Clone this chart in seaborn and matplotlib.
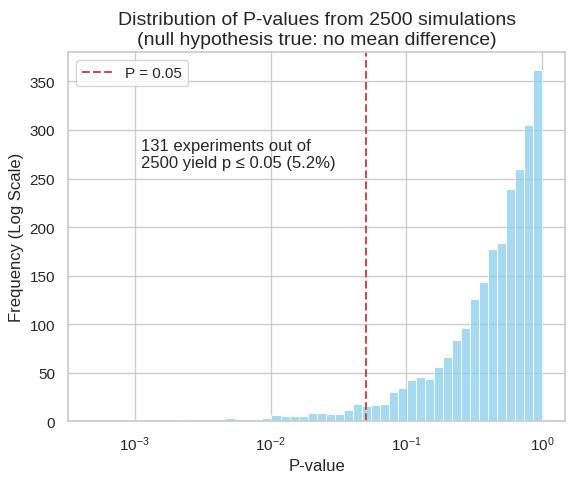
import numpy as np
import pandas as pd
import matplotlib
matplotlib.use("Agg")
import matplotlib.pyplot as plt
import seaborn as sns

# histogram counts, 50 log-spaced bins
n_bins = 50
log_lo, log_hi = -3.3215, 0.0
counts = [1, 0, 0, 0, 0, 0, 0, 1, 0, 1,
          2, 1, 0, 0, 0, 3, 0, 1, 0, 3,
          6, 5, 5, 5, 8, 8, 7, 7, 11, 18,
          15, 17, 18, 30, 34, 42, 45, 43, 56, 66,
          84, 96, 126, 143, 177, 183, 239, 260, 305, 362]
n_sims = 2500
n_sig = 131
alpha_level = 0.05

# one weighted point per bin, at the bin centre (in log space)
edges_log = np.linspace(log_lo, log_hi, n_bins + 1)
centres = 10 ** ((edges_log[:-1] + edges_log[1:]) / 2)
df = pd.DataFrame({"p": centres, "n": counts})
df = df[df["n"] > 0]

sns.set_theme(style="whitegrid")
plt.rcParams["font.family"] = ["Liberation Sans", "DejaVu Sans"]

fig = plt.figure(figsize=(5.75, 4.89), dpi=100)
ax = fig.add_axes([0.1188, 0.137, 0.8638, 0.754])

sns.histplot(data=df, x="p", weights="n", bins=n_bins, binrange=(log_lo, log_hi),
             log_scale=True, color="skyblue", ax=ax)
ax.axvline(alpha_level, color="r", linestyle="--", label=f"P = {alpha_level}")

ax.text(0.146, 0.68,
        f"{n_sig} experiments out of\n{n_sims} yield p \u2264 {alpha_level} ({n_sig / n_sims:.1%})",
        transform=ax.transAxes, fontsize=12, va="bottom")

ax.set_title(f"Distribution of P-values from {n_sims} simulations\n"
             "(null hypothesis true: no mean difference)", fontsize=14)
ax.set_xlabel("P-value")
ax.set_ylabel("Frequency (Log Scale)")
ax.legend(loc="upper left")

fig.savefig("out.png", dpi=100)
